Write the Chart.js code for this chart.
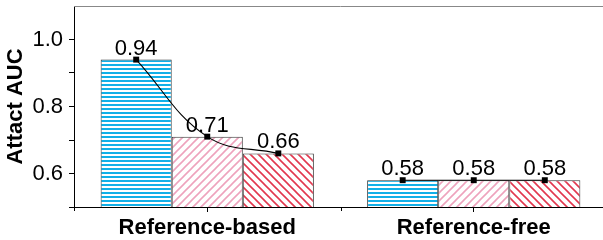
<!DOCTYPE html>
<html>
<head>
<meta charset="utf-8">
<script src="https://cdn.jsdelivr.net/npm/chart.js@4.4.1/dist/chart.umd.min.js"></script>
<style>
  html, body { margin: 0; padding: 0; background: #fff; overflow: hidden; }
  .wrap { position: relative; width: 620px; height: 240px; }
  .wrap canvas { position: absolute; left: 0; top: 0; }
</style>
</head>
<body>
<div class="wrap">
  <canvas id="barChart" width="620" height="240"></canvas>
  <canvas id="lineChart" width="620" height="240"></canvas>
</div>
<script>
// data
const groups = ['Reference-based', 'Reference-free'];
const seriesA = [0.94, 0.58];   // cyan, horizontal stripes
const seriesB = [0.71, 0.58];   // pink, "/" stripes
const seriesC = [0.66, 0.58];   // red, "\" stripes
const yTickLabels = ['0.6', '0.8', '1.0'];

const FONT = "'Liberation Sans', Arial, sans-serif";
const CAT_PCT = 0.8;
const Y_MIN = 0.5, Y_MAX = 1.1;

// hatch patterns
function stripes(color, kind) {
  const c = document.createElement('canvas');
  const s = kind === 'h' ? 4 : 8;
  c.width = s; c.height = s;
  const g = c.getContext('2d');
  g.fillStyle = '#fff';
  g.fillRect(0, 0, s, s);
  g.strokeStyle = color;
  g.fillStyle = color;
  if (kind === 'h') {
    g.fillRect(0, 0, s, 2);
  } else {
    g.lineWidth = 1.6;
    g.beginPath();
    if (kind === '/') {
      g.moveTo(-2, s + 2); g.lineTo(s + 2, -2);
      g.moveTo(-2, 2); g.lineTo(2, -2);
      g.moveTo(s - 2, s + 2); g.lineTo(s + 2, s - 2);
    } else {
      g.moveTo(-2, -2); g.lineTo(s + 2, s + 2);
      g.moveTo(s - 2, -2); g.lineTo(s + 2, 2);
      g.moveTo(-2, s - 2); g.lineTo(2, s + 2);
    }
    g.stroke();
  }
  return g.createPattern(c, 'repeat');
}

const series = [seriesA, seriesB, seriesC];
const fills = [stripes('#12b0e8', 'h'), stripes('#eea3bd', '/'), stripes('#e2384f', '\\')];

// line points sit on the bar centres: group index + offset of the bar within the group
function linePoints(g) {
  const n = series.length;
  return series.map((s, k) => ({ x: g + (k - (n - 1) / 2) * (CAT_PCT / n), y: s[g] }));
}

const extras = {
  id: 'extras',
  afterDatasetsDraw(chart) {
    const c = chart.ctx;
    const a = chart.chartArea;
    const xs = chart.scales.x;
    c.save();
    // top frame line
    c.strokeStyle = '#888';
    c.lineWidth = 1;
    c.beginPath();
    c.moveTo(a.left, a.top + 0.5);
    c.lineTo(a.right, a.top + 0.5);
    c.stroke();
    // minor ticks between categories
    c.strokeStyle = '#000';
    c.beginPath();
    for (let i = 0; i <= groups.length; i++) {
      const px = Math.round(xs.getPixelForValue(i - 0.5)) + 0.5;
      c.moveTo(px, a.bottom);
      c.lineTo(px, a.bottom + 4);
    }
    c.stroke();
    // value labels
    c.fillStyle = '#000';
    c.font = '22px ' + FONT;
    c.textAlign = 'center';
    c.textBaseline = 'alphabetic';
    series.forEach((s, k) => {
      chart.getDatasetMeta(k).data.forEach((bar, j) => {
        c.fillText(s[j].toFixed(2), bar.x, bar.y - 5);
      });
    });
    c.restore();
  }
};

function noPad(s) {
  s.paddingTop = 0; s.paddingBottom = 0; s.paddingLeft = 0; s.paddingRight = 0;
}

new Chart(document.getElementById('barChart'), {
  type: 'bar',
  data: {
    labels: groups,
    datasets: series.map((s, k) => ({
      label: 'S' + (k + 1),
      data: s,
      backgroundColor: fills[k],
      borderColor: '#333',
      borderWidth: 1,
      borderSkipped: false
    }))
  },
  options: {
    responsive: false,
    animation: false,
    categoryPercentage: CAT_PCT,
    barPercentage: 1,
    layout: { padding: { top: 6, right: 13, left: 0, bottom: 0 } },
    plugins: { legend: { display: false }, tooltip: { enabled: false } },
    scales: {
      x: {
        afterFit(s) { s.height = 33; noPad(s); },
        grid: { display: true, drawOnChartArea: false, offset: false, tickLength: 5, color: '#000' },
        border: { display: true, color: '#000', width: 1 },
        ticks: { color: '#000', padding: 3, font: { family: FONT, size: 22, weight: 'bold' } }
      },
      y: {
        min: Y_MIN,
        max: Y_MAX,
        afterFit(s) { s.width = 74; noPad(s); },
        grid: {
          drawOnChartArea: false,
          tickLength: 5,
          tickColor: (ctx) => (ctx.tick && ctx.tick.value > 1.05 ? 'rgba(0,0,0,0)' : '#000')
        },
        border: { display: true, color: '#000', width: 1 },
        ticks: {
          stepSize: 0.1,
          color: '#000',
          padding: 6,
          font: { family: FONT, size: 22 },
          callback: (v) => {
            const s = Number(v).toFixed(1);
            return yTickLabels.includes(s) ? s : '';
          }
        },
        title: {
          display: true,
          text: 'Attact AUC',
          color: '#000',
          padding: { top: 2.5, bottom: 0 },
          font: { family: FONT, size: 22, weight: 'bold' }
        }
      }
    }
  },
  plugins: [extras]
});

// trend lines with square markers, overlaid on the same plot area
new Chart(document.getElementById('lineChart'), {
  type: 'line',
  data: {
    datasets: groups.map((name, g) => ({
      label: name,
      data: linePoints(g),
      borderColor: '#000',
      borderWidth: 1.1,
      tension: 0.4,
      pointStyle: 'rect',
      pointRadius: 4.2,
      pointBackgroundColor: '#000',
      pointBorderColor: '#000',
      pointBorderWidth: 0
    }))
  },
  options: {
    responsive: false,
    animation: false,
    layout: { padding: { top: 6, right: 13, left: 74, bottom: 33 } },
    plugins: { legend: { display: false }, tooltip: { enabled: false } },
    scales: {
      x: { type: 'linear', display: false, min: -0.5, max: groups.length - 0.5 },
      y: { display: false, min: Y_MIN, max: Y_MAX }
    }
  }
});
</script>
</body>
</html>
